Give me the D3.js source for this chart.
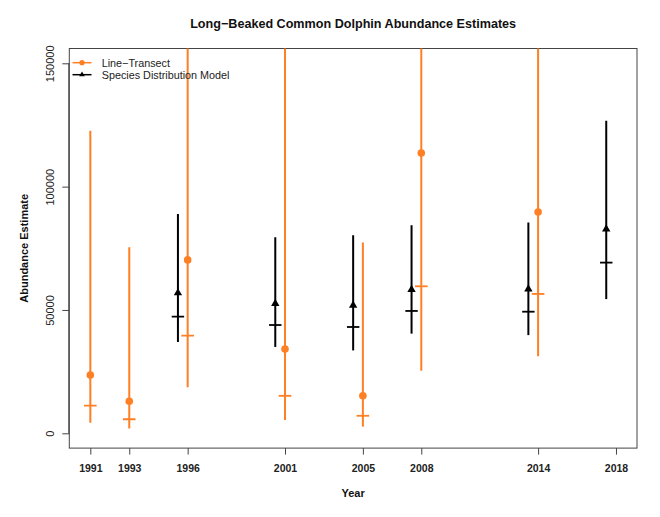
<!DOCTYPE html>
<html>
<head>
<meta charset="utf-8">
<script src="https://cdn.jsdelivr.net/npm/d3@7"></script>
<style>
  html, body { margin: 0; padding: 0; background: #fff; }
  svg { display: block; font-family: "Liberation Sans", Arial, sans-serif; }
</style>
</head>
<body>
<svg id="chart" width="660" height="517"></svg>
<script>
// ---- Data ----
const yearTicks = [1991, 1993, 1996, 2001, 2005, 2008, 2014, 2018];
const yTicks = [0, 50000, 100000, 150000];

// Line-Transect estimates
const ltYears  = [1991, 1993, 1996, 2001, 2005, 2008, 2014];
const ltEst    = [23600, 13000, 70300, 34200, 15200, 113600, 89700];
const ltMedian = [11200, 5700, 39600, 15200, 7100, 59600, 56500];
const ltLower  = [4300, 1900, 18700, 5400, 2700, 25400, 31200];
const ltUpper  = [122700, 75400, 260000, 190000, 77400, 420000, 250000];

// Species Distribution Model estimates
const sdmYears  = [1996, 2001, 2005, 2008, 2014, 2018];
const sdmEst    = [56900, 52600, 51900, 58300, 58500, 82800];
const sdmMedian = [47300, 43900, 43100, 49600, 49300, 69200];
const sdmLower  = [37000, 35000, 33600, 40400, 39800, 54400];
const sdmUpper  = [88900, 79500, 80300, 84300, 85500, 126700];
const sdmOffset = -0.5;

const orange = "#FF7F24";
const black = "#000000";
const axisCol = "#444";

// ---- Layout ----
const svg = d3.select("#chart");
const box = { left: 69.3, right: 637, top: 48.5, bottom: 448.1 };

const x = d3.scaleLinear().domain([1989.92, 2019.08]).range([box.left, box.right]);
const y = d3.scaleLinear().domain([-6000, 156000]).range([box.bottom, box.top]);

// clip
svg.append("defs").append("clipPath").attr("id", "plotclip")
  .append("rect").attr("x", box.left).attr("y", box.top)
  .attr("width", box.right - box.left).attr("height", box.bottom - box.top);

// Title
svg.append("text")
  .attr("x", (box.left + box.right) / 2).attr("y", 27.7)
  .attr("text-anchor", "middle").attr("font-weight", "bold")
  .attr("font-size", 12.6).attr("fill", "#111")
  .text("Long\u2212Beaked Common Dolphin Abundance Estimates");

// Box
svg.append("rect")
  .attr("x", box.left).attr("y", box.top)
  .attr("width", box.right - box.left).attr("height", box.bottom - box.top)
  .attr("fill", "none").attr("stroke", axisCol).attr("stroke-width", 1);

// Y axis
const yAxis = d3.axisLeft(y).tickValues(yTicks).tickSize(7).tickPadding(0)
  .tickFormat(d3.format("d"));
const gy = svg.append("g").attr("transform", `translate(${box.left},0)`).call(yAxis);
gy.select(".domain").attr("d", `M-0.5,${y(0)}V${y(150000)}`).attr("stroke", axisCol);
gy.selectAll(".tick line").attr("stroke", axisCol);
gy.selectAll(".tick text")
  .attr("x", null).attr("dy", null)
  .attr("transform", "translate(-15.3,0) rotate(-90)")
  .attr("text-anchor", "middle")
  .attr("font-size", 11).attr("font-family", "'Liberation Sans', Arial, sans-serif")
  .attr("fill", "#222");

// X axis
const xAxis = d3.axisBottom(x).tickValues(yearTicks).tickSize(6.5).tickPadding(0)
  .tickFormat(d3.format("d"));
const gx = svg.append("g").attr("transform", `translate(0,${box.bottom})`).call(xAxis);
gx.select(".domain").remove();
gx.selectAll(".tick line").attr("stroke", axisCol);
gx.selectAll(".tick text")
  .attr("y", 23.6).attr("dy", null)
  .attr("font-size", 10.5).attr("font-weight", "bold")
  .attr("font-family", "'Liberation Sans', Arial, sans-serif")
  .attr("fill", "#222");

// Axis titles
svg.append("text")
  .attr("x", (box.left + box.right) / 2).attr("y", 497.3)
  .attr("text-anchor", "middle").attr("font-weight", "bold")
  .attr("font-size", 11).attr("fill", "#111").text("Year");
svg.append("text")
  .attr("transform", `translate(28.3,${(box.top + box.bottom) / 2}) rotate(-90)`)
  .attr("text-anchor", "middle").attr("font-weight", "bold")
  .attr("font-size", 11).attr("fill", "#111").text("Abundance Estimate");

// ---- Marks ----
const plot = svg.append("g").attr("clip-path", "url(#plotclip)");

// Line-Transect
const lt = ltYears.map((yr, i) => ({ yr, est: ltEst[i], med: ltMedian[i], lo: ltLower[i], hi: ltUpper[i] }));
plot.selectAll(".ltci").data(lt).enter().append("line")
  .attr("x1", d => x(d.yr)).attr("x2", d => x(d.yr))
  .attr("y1", d => y(d.lo)).attr("y2", d => y(d.hi))
  .attr("stroke", orange).attr("stroke-width", 2);
plot.selectAll(".ltmed").data(lt).enter().append("line")
  .attr("x1", d => x(d.yr) - 6.3).attr("x2", d => x(d.yr) + 6.3)
  .attr("y1", d => y(d.med)).attr("y2", d => y(d.med))
  .attr("stroke", orange).attr("stroke-width", 1.8);
plot.selectAll(".ltpt").data(lt).enter().append("circle")
  .attr("cx", d => x(d.yr)).attr("cy", d => y(d.est)).attr("r", 3.8)
  .attr("fill", orange);

// SDM
const sdm = sdmYears.map((yr, i) => ({ yr, est: sdmEst[i], med: sdmMedian[i], lo: sdmLower[i], hi: sdmUpper[i] }));
const tri = (cx, cy, s) => {
  const r = 1.555 * s, xc = 1.347 * s, yc = 0.778 * s;
  return `M${cx},${cy - r}L${cx + xc},${cy + yc}L${cx - xc},${cy + yc}Z`;
};
plot.selectAll(".sdmci").data(sdm).enter().append("line")
  .attr("x1", d => x(d.yr + sdmOffset)).attr("x2", d => x(d.yr + sdmOffset))
  .attr("y1", d => y(d.lo)).attr("y2", d => y(d.hi))
  .attr("stroke", black).attr("stroke-width", 2);
plot.selectAll(".sdmmed").data(sdm).enter().append("line")
  .attr("x1", d => x(d.yr + sdmOffset) - 6.2).attr("x2", d => x(d.yr + sdmOffset) + 6.2)
  .attr("y1", d => y(d.med)).attr("y2", d => y(d.med))
  .attr("stroke", black).attr("stroke-width", 1.8);
plot.selectAll(".sdmpt").data(sdm).enter().append("path")
  .attr("d", d => tri(x(d.yr + sdmOffset), y(d.est), 3.1))
  .attr("fill", black);

// ---- Legend ----
const leg = svg.append("g");
const legItems = [
  { label: "Line\u2212Transect", color: orange, shape: "circle", yy: 62.7 },
  { label: "Species Distribution Model", color: black, shape: "tri", yy: 74.7 }
];
legItems.forEach(it => {
  leg.append("line").attr("x1", 72.5).attr("x2", 91.5)
    .attr("y1", it.yy).attr("y2", it.yy)
    .attr("stroke", it.color).attr("stroke-width", 1.5);
  if (it.shape === "circle") {
    leg.append("circle").attr("cx", 82).attr("cy", it.yy).attr("r", 2.6).attr("fill", it.color);
  } else {
    leg.append("path").attr("d", tri(82, it.yy, 2.1)).attr("fill", it.color);
  }
  leg.append("text").attr("x", 101.7).attr("y", it.yy + 3.9)
    .attr("font-size", 10.8).attr("fill", "#222").text(it.label);
});
</script>
</body>
</html>
